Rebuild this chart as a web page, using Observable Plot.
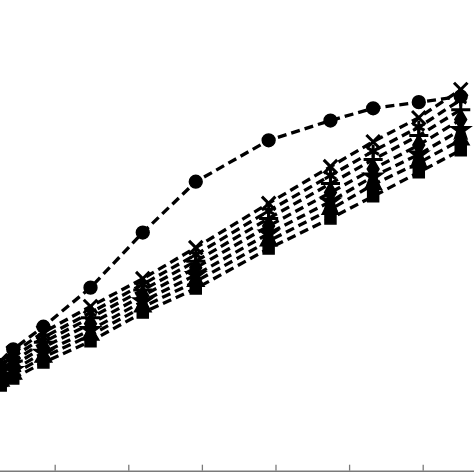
<!DOCTYPE html>
<html>
<head>
<meta charset="utf-8">
<script src="https://cdn.jsdelivr.net/npm/d3@7"></script>
<script src="https://cdn.jsdelivr.net/npm/@observablehq/plot@0.6"></script>
<style>
  html, body { margin: 0; padding: 0; background: #fff; }
  #chart svg { display: block; background: #fff; }
</style>
</head>
<body>
<div id="chart"></div>
<script>
// Shared x positions of the measurements
const xValues = [0.26, 0.43, 0.84, 1.48, 2.19, 2.91, 3.90, 4.74, 5.32, 5.94, 6.51];
// Axis tick positions (labels are cropped out of the picture)
const xTicks = [1, 2, 3, 4, 5, 6];

// Series values
const seriesCircle   = [22.0, 25.9, 30.7, 39.0, 50.7, 61.5, 70.3, 74.5, 77.1, 78.4, 79.6];
const seriesTimes    = [23.5, 25.2, 29.5, 35.0, 40.9, 47.5, 56.9, 64.7, 70.0, 75.1, 81.1];
const seriesAsterisk = [22.6, 24.3, 28.4, 33.7, 39.7, 46.0, 55.3, 62.8, 68.0, 73.1, 78.9];
const seriesPlus     = [21.7, 23.4, 27.4, 32.6, 38.5, 44.6, 53.7, 61.1, 66.2, 71.3, 76.8];
const seriesDiamond  = [20.9, 22.5, 26.3, 31.3, 37.3, 43.2, 52.1, 59.2, 64.2, 69.3, 74.7];
const seriesStar     = [20.0, 21.5, 25.2, 30.0, 36.1, 41.7, 50.5, 57.3, 62.6, 67.3, 72.5];
const seriesTriangle = [19.1, 20.6, 24.2, 28.9, 34.9, 40.3, 48.9, 55.6, 60.9, 65.5, 70.4];
const seriesSquare   = [18.2, 19.7, 23.1, 27.6, 33.7, 38.8, 47.3, 53.7, 58.4, 63.5, 68.2];

const seriesNames   = ["circle", "times", "asterisk", "plus", "diamond", "star", "triangle", "square"];
const seriesList    = [seriesCircle, seriesTimes, seriesAsterisk, seriesPlus, seriesDiamond, seriesStar, seriesTriangle, seriesSquare];

const rows = [];
seriesList.forEach((vals, i) => {
  vals.forEach((v, j) => rows.push({series: seriesNames[i], x: xValues[j], y: v}));
});

const lineMarks = seriesNames.map(name =>
  Plot.line(rows.filter(d => d.series === name), {
    x: "x", y: "y", stroke: "black", strokeWidth: 3.3,
    strokeDasharray: "9,5", strokeLinecap: "butt"
  })
);

const dotMarks = seriesNames.slice().reverse().map(name => {
  const lineSym = name === "times" || name === "asterisk" || name === "plus";
  return Plot.dot(rows.filter(d => d.series === name), {
    x: "x", y: "y", symbol: () => name,
    r: name === "circle" ? 6.4 : 6.2,
    fill: lineSym ? "none" : "black",
    stroke: "black",
    strokeWidth: lineSym ? 3 : 1.5
  });
});

const chart = Plot.plot({
  width: 474,
  height: 474,
  marginTop: 0,
  marginRight: 0,
  marginLeft: 0,
  marginBottom: 3.3,
  style: {background: "#fff"},
  x: {domain: [0.257, 6.697]},
  y: {domain: [0, 100]},
  symbol: {type: "identity"},
  marks: [
    Plot.axisY({ticks: [], label: null}),
    Plot.ruleY([0], {stroke: "#7a7a7a", strokeWidth: 1.5}),
    Plot.axisX({ticks: xTicks, tickSize: -6, tickFormat: () => "", stroke: "#7a7a7a", strokeWidth: 1.3, label: null}),
    ...lineMarks,
    ...dotMarks
  ]
});

document.getElementById("chart").appendChild(chart);
</script>
</body>
</html>
